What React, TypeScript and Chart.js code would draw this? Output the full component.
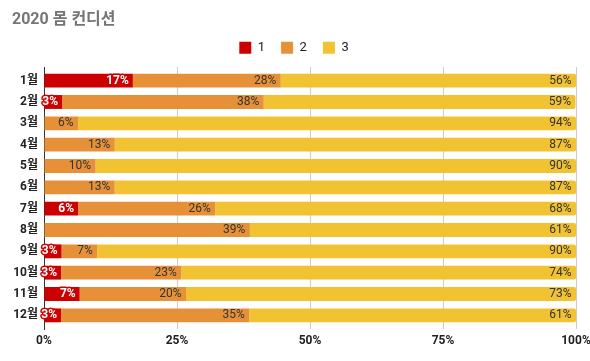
import React, { useEffect, useRef } from 'react';
import { Chart, registerables } from 'chart.js';

Chart.register(...registerables);

const categories = ['1월', '2월', '3월', '4월', '5월', '6월', '7월', '8월', '9월', '10월', '11월', '12월'];
const seriesNames = ['1', '2', '3'];
const series1 = [16.7, 3.4, 0, 0, 0, 0, 6.4, 0, 3.3, 3.2, 6.7, 3.2];
const series2 = [27.8, 37.9, 6.4, 13.3, 9.7, 13.3, 25.8, 38.7, 6.7, 22.6, 20, 35.4];
const series3 = [55.5, 58.6, 93.6, 86.7, 90.3, 86.7, 67.8, 61.3, 90, 74.2, 73.3, 61.4];
const xTickValues = [0, 25, 50, 75, 100];

const RED = '#cc0000';
const ORANGE = '#e69138';
const YELLOW = '#f1c232';
const FONT = 'Roboto, "Noto Sans CJK KR", sans-serif';

const labelPlugin = {
  id: 'barLabels',
  afterDatasetsDraw(chart: any) {
    const ctx = chart.ctx;
    chart.data.datasets.forEach((ds: any, di: number) => {
      const meta = chart.getDatasetMeta(di);
      meta.data.forEach((bar: any, i: number) => {
        const v = ds.data[i];
        if (!v) return;
        const { x, y } = bar.getProps(['x', 'y'], true);
        const text = Math.round(v) + '%';
        ctx.save();
        ctx.textAlign = 'right';
        ctx.textBaseline = 'middle';
        if (di === 0) {
          ctx.font = `bold 12px ${FONT}`;
          ctx.lineWidth = 3;
          ctx.lineJoin = 'round';
          ctx.strokeStyle = RED;
          ctx.strokeText(text, x - 4, y);
          ctx.fillStyle = '#ffffff';
          ctx.fillText(text, x - 4, y);
        } else {
          ctx.font = `12px ${FONT}`;
          ctx.fillStyle = '#333333';
          ctx.fillText(text, x - 4.5, y);
        }
        ctx.restore();
      });
    });
  },
};

const legendGapPlugin = {
  id: 'legendGap',
  beforeLayout(chart: any) {
    const legend = chart.legend;
    if (legend && !legend._gapPatched) {
      const orig = legend.fit;
      legend.fit = function () {
        orig.call(this);
        this.height += 2.8;
      };
      legend._gapPatched = true;
    }
  },
};

export default function App() {
  const ref = useRef<HTMLCanvasElement | null>(null);

  useEffect(() => {
    if (!ref.current) return;
    const chart = new Chart(ref.current, {
      type: 'bar',
      data: {
        labels: categories,
        datasets: [
          { label: seriesNames[0], data: series1, backgroundColor: RED, borderWidth: 0, barPercentage: 0.65, categoryPercentage: 1 },
          { label: seriesNames[1], data: series2, backgroundColor: ORANGE, borderWidth: 0, barPercentage: 0.65, categoryPercentage: 1 },
          { label: seriesNames[2], data: series3, backgroundColor: YELLOW, borderWidth: 0, barPercentage: 0.65, categoryPercentage: 1, borderRadius: 2 },
        ],
      },
      options: {
        indexAxis: 'y',
        responsive: false,
        animation: false,
        events: [],
        layout: { padding: { left: 12, right: 14, top: 14, bottom: 7.6 } },
        plugins: {
          title: {
            display: true,
            text: '2020 몸 컨디션',
            align: 'start',
            color: '#757575',
            font: { family: FONT, size: 16, weight: 'bold', lineHeight: 0.7 },
            padding: 0,
          },
          legend: {
            display: true,
            position: 'top',
            labels: {
              boxWidth: 12,
              boxHeight: 12,
              padding: 16,
              color: '#222222',
              font: { family: FONT, size: 13 },
            },
          },
          tooltip: { enabled: false },
        },
        scales: {
          x: {
            stacked: true,
            min: 0,
            max: 100,
            afterBuildTicks: (axis: any) => {
              axis.ticks = xTickValues.map((v) => ({ value: v }));
            },
            afterFit: (axis: any) => {
              axis.paddingLeft = 0;
              axis.paddingRight = 0;
            },
            ticks: {
              padding: 5,
              color: '#222222',
              font: { family: FONT, size: 12, weight: 'bold' },
              callback: (v: any) => v + '%',
            },
            grid: { color: '#cccccc', drawTicks: false },
            border: { display: false },
          },
          y: {
            stacked: true,
            afterBuildTicks: (axis: any) => {
              const e = 0.14;
              axis._startValue = -0.5 - e;
              axis._valueRange = categories.length + 2 * e;
            },
            afterFit: (axis: any) => {
              axis.width = 32;
              axis.paddingTop = 0;
              axis.paddingBottom = 0;
            },
            ticks: {
              padding: 6,
              color: '#222222',
              font: { family: FONT, size: 12, weight: 'bold' },
            },
            grid: { display: false, drawTicks: false },
            border: { display: true, color: '#333333', width: 1 },
          },
        },
      },
      plugins: [labelPlugin, legendGapPlugin],
    } as any);
    return () => chart.destroy();
  }, []);

  return (
    <div style={{ position: 'absolute', left: 0, top: 0, width: 590, height: 361 }}>
      <canvas ref={ref} width={590} height={361} />
    </div>
  );
}
